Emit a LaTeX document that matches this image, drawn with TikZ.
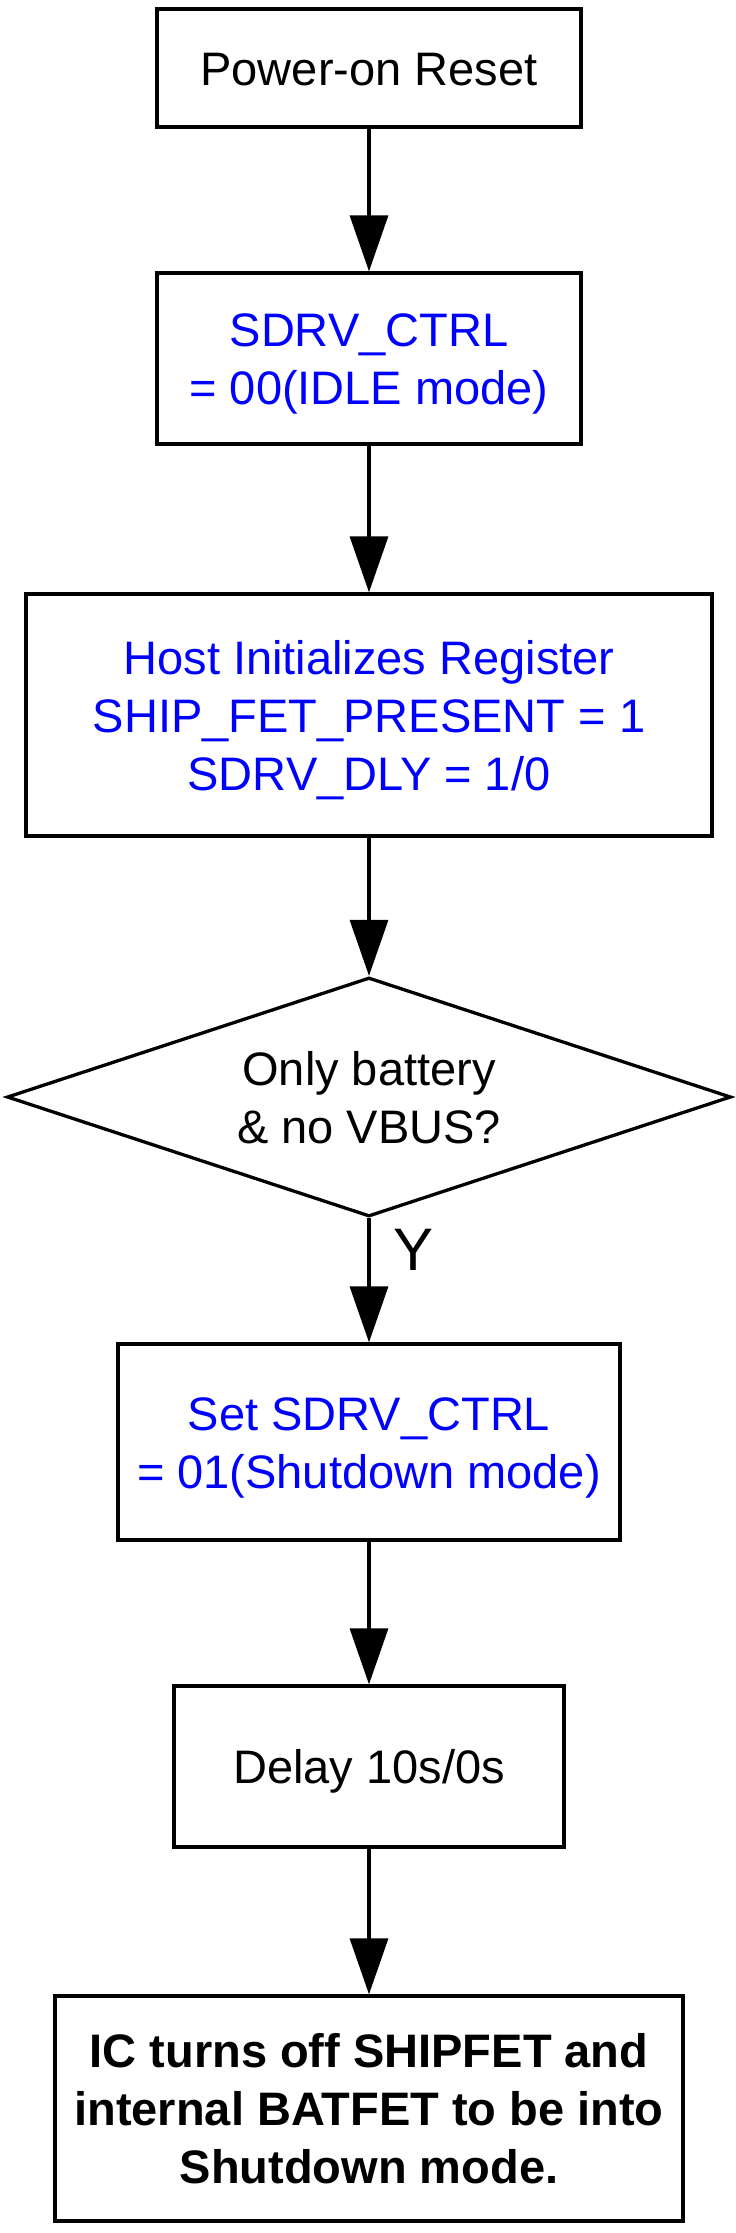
\documentclass[tikz,border=0pt]{standalone}
\usepackage{fontspec}
\setmainfont{Liberation Sans}
\usetikzlibrary{shapes.geometric,arrows.meta}
\definecolor{tblue}{RGB}{0,0,255}
\newcommand{\Lne}[1]{\raisebox{0pt}[34pt][0pt]{#1}}
\tikzset{
  boxnode/.style={draw=black, line width=3.3pt, rectangle, inner sep=0pt,
    align=center, font=\fontsize{47}{58}\selectfont},
  decnode/.style={draw=black, line width=3.3pt, diamond, shape aspect=3.03,
    inner sep=0pt, align=center, font=\fontsize{47}{58}\selectfont},
  arr/.style={line width=3.3pt, -{Triangle[width=38pt,length=56pt]}},
  bluetext/.style={text=tblue},
}
\begin{document}
\begin{tikzpicture}[x=1pt,y=-1pt]
\useasboundingbox[fill=white] (0,0) rectangle (736,2233);

\node[boxnode, minimum width=424pt, minimum height=118pt] (b1) at (369,68)
  {\Lne{Power-on Reset}};
\node[boxnode, bluetext, minimum width=424pt, minimum height=171pt] (b2) at (369,358.5)
  {\Lne{SDRV\_CTRL}\\\Lne{= 00(IDLE mode)}};
\node[boxnode, bluetext, minimum width=686pt, minimum height=242pt] (b3) at (369,715)
  {\Lne{Host Initializes Register}\\\Lne{SHIP\_FET\_PRESENT = 1}\\\Lne{SDRV\_DLY = 1/0}};
\node[decnode, minimum width=724pt, minimum height=239pt] (d) at (369,1097)
  {\Lne{Only battery}\\\Lne{\& no VBUS?}};
\node[boxnode, bluetext, minimum width=502pt, minimum height=196pt] (b4) at (369,1442)
  {\Lne{Set SDRV\_CTRL}\\\Lne{= 01(Shutdown mode)}};
\node[boxnode, minimum width=390pt, minimum height=161pt] (b5) at (369,1766.5)
  {\Lne{Delay 10s/0s}};
\node[boxnode, minimum width=628pt, minimum height=225pt, font=\fontsize{47}{58}\selectfont\bfseries] (b6) at (369,2108.5)
  {\Lne{IC turns off SHIPFET and}\\\Lne{internal BATFET to be into}\\\Lne{Shutdown mode.}};

\draw[arr] (b1) -- (b2);
\draw[arr] (b2) -- (b3);
\draw[arr] (b3) -- (d);
\draw[arr] (d) -- (b4);
\draw[arr] (b4) -- (b5);
\draw[arr] (b5) -- (b6);

\node[inner sep=0pt, font=\fontsize{60}{60}\selectfont] (ylab) at (414,1249.5) {Y};
\end{tikzpicture}
\end{document}
